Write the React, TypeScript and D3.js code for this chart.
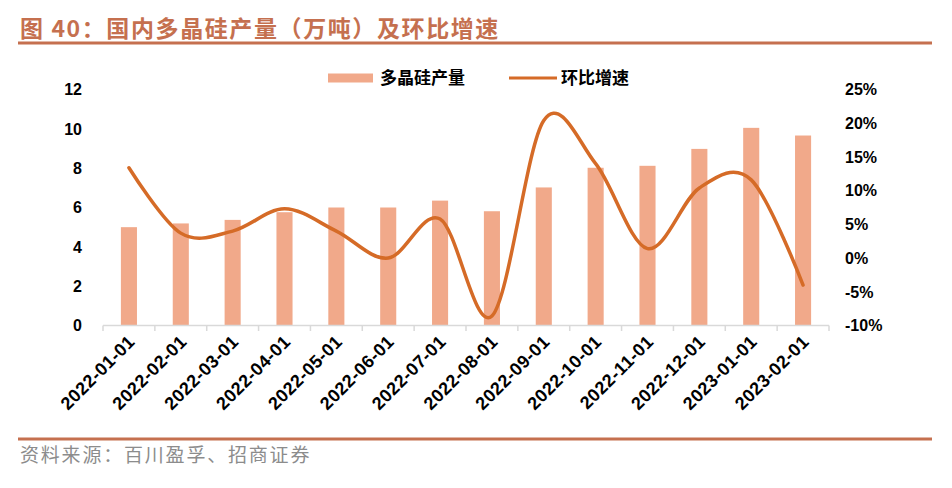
import React from "react";
import * as d3 from "d3";

const months = [
  "2022-01-01", "2022-02-01", "2022-03-01", "2022-04-01", "2022-05-01",
  "2022-06-01", "2022-07-01", "2022-08-01", "2022-09-01", "2022-10-01",
  "2022-11-01", "2022-12-01", "2023-01-01", "2023-02-01",
];
// 多晶硅产量（万吨）
const output = [5.0, 5.19, 5.37, 5.76, 6.0, 6.0, 6.35, 5.81, 7.02, 8.02, 8.12, 8.98, 10.05, 9.66];
// 环比增速（%）
const growth = [13.4, 3.7, 4.0, 7.3, 4.0, 0.0, 5.8, -8.6, 20.4, 14.0, 1.4, 10.4, 11.6, -4.0];
const leftTicks = [0, 2, 4, 6, 8, 10, 12];
const rightTicks = [-10, -5, 0, 5, 10, 15, 20, 25];

const W = 952;
const H = 488;
const titleColor = "#C5704F";
const barColor = "#F1A98A";
const lineColor = "#D56B27";
const axisFont = "Arial, 'Liberation Sans', sans-serif";
const cjkFont = "'Noto Sans CJK SC', sans-serif";

export default function App() {
  const x = d3.scaleBand<string>().domain(months).range([103, 829]).paddingInner(0.69).paddingOuter(0.345);
  const yL = d3.scaleLinear().domain([0, 12]).range([325.5, 89.5]);
  const yR = d3.scaleLinear().domain([-10, 25]).range([325.5, 89.5]);
  const cx = (m: string) => (x(m) ?? 0) + x.bandwidth() / 2;
  const step = x.step();

  const line = d3
    .line<number>()
    .x((_, i) => cx(months[i]))
    .y((d) => yR(d))
    .curve(d3.curveCardinal.tension(0));

  return (
    <svg width={W} height={H} style={{ display: "block", position: "absolute", left: 0, top: 0 }}>
      <rect width={W} height={H} fill="#fff" />
      {/* title */}
      <text x={20} y={37} fill={titleColor} fontFamily={cjkFont} fontWeight="bold" fontSize={23} letterSpacing={1.6}>
        图 40：国内多晶硅产量（万吨）及环比增速
      </text>
      <line x1={18} x2={932} y1={43} y2={43} stroke={titleColor} strokeWidth={3} />

      {/* legend */}
      <rect x={328} y={73.5} width={45} height={9} fill={barColor} />
      <text x={380} y={84} fontFamily={cjkFont} fontWeight="bold" fontSize={17} fill="#000">
        多晶硅产量
      </text>
      <line x1={509} x2={557} y1={78} y2={78} stroke={lineColor} strokeWidth={3} />
      <text x={561} y={84} fontFamily={cjkFont} fontWeight="bold" fontSize={17} fill="#000">
        环比增速
      </text>

      {/* bars */}
      {months.map((m, i) => (
        <rect
          key={m}
          x={x(m)}
          y={yL(output[i])}
          width={x.bandwidth()}
          height={yL(0) - yL(output[i])}
          fill={barColor}
        />
      ))}

      {/* x axis */}
      <line x1={103} x2={829} y1={325.5} y2={325.5} stroke="#d9d9d9" strokeWidth={1.5} />
      {months.map((m) => (
        <line key={m} x1={cx(m) - step / 2} x2={cx(m) - step / 2} y1={325.5} y2={331} stroke="#d9d9d9" strokeWidth={1.5} />
      ))}
      <line x1={829} x2={829} y1={325.5} y2={331} stroke="#d9d9d9" strokeWidth={1.5} />

      {/* line */}
      <path d={line(growth) ?? ""} fill="none" stroke={lineColor} strokeWidth={3.5} strokeLinecap="round" />

      {/* left axis labels */}
      {leftTicks.map((t) => (
        <text key={t} x={82} y={yL(t)} dy="0.36em" textAnchor="end" fontFamily={axisFont} fontWeight="bold" fontSize={16} fill="#000">
          {t}
        </text>
      ))}
      {/* right axis labels */}
      {rightTicks.map((t) => (
        <text key={t} x={845} y={yR(t)} dy="0.36em" textAnchor="start" fontFamily={axisFont} fontWeight="bold" fontSize={16} fill="#000">
          {t}%
        </text>
      ))}

      {/* x labels */}
      {months.map((m) => (
        <text
          key={m}
          transform={`translate(${cx(m) + 7},${343}) rotate(-45)`}
          textAnchor="end"
          fontFamily={axisFont}
          fontWeight="bold"
          fontSize={18}
          letterSpacing={0.4}
          fill="#000"
        >
          {m}
        </text>
      ))}

      {/* source */}
      <line x1={18} x2={932} y1={439} y2={439} stroke={titleColor} strokeWidth={3} />
      <text x={20} y={462} fontFamily={cjkFont} fontSize={19} letterSpacing={1.8} fill="#8c8c8c">
        资料来源：百川盈孚、招商证券
      </text>
    </svg>
  );
}
